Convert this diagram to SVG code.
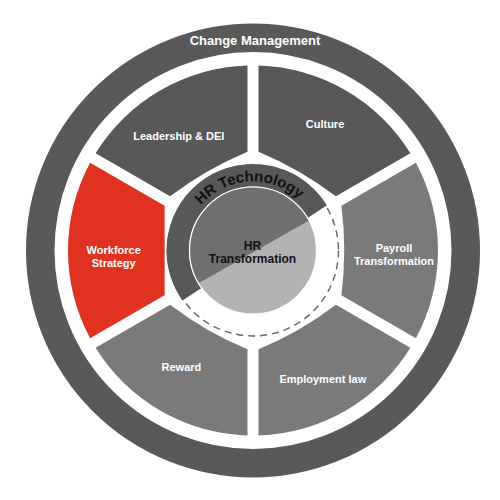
<svg xmlns="http://www.w3.org/2000/svg" width="500" height="500" viewBox="0 0 500 500">
<style>
.lbl{font-family:"Liberation Sans",Arial,sans-serif;font-size:11px;font-weight:bold;fill:#ffffff;text-anchor:middle}
.dark{fill:#585858}
.mid{fill:#7a7a7a}
.red{fill:#e03220}
.blk{font-family:"Liberation Sans",Arial,sans-serif;font-weight:bold;fill:#111111;text-anchor:middle}
</style>
<defs>
<clipPath id="ringClip"><polygon points="0,420.8 500,91.2 500,0 0,0"/></clipPath>
<clipPath id="coreClip"><polygon points="0,395.9 500,111.9 500,0 0,0"/></clipPath>
<path id="techArc" d="M 184 250.5 A 69 69 0 0 1 322 250.5"/>
</defs>
<rect width="500" height="500" fill="#ffffff"/>

<g id="change-management">
<circle cx="253" cy="250.5" r="212.75" fill="none" stroke="#595959" stroke-width="28.5"/>
<text x="255" y="44.5" class="lbl" style="font-size:13px">Change Management</text>
</g>

<g id="culture">
<path class="dark" d="M 258.5 65.6 A 185 185 0 0 1 410.4 153.3 L 335.9 196.3 A 350 350 0 0 0 258.5 151.65 Z"/>
<text x="325" y="128" class="lbl">Culture</text>
</g>
<g id="leadership-dei">
<path class="dark" d="M 95.6 153.3 A 185 185 0 0 1 247.5 65.6 L 247.5 151.65 A 350 350 0 0 0 170.1 196.3 Z"/>
<text x="178.8" y="140" class="lbl">Leadership &amp; DEI</text>
</g>
<g id="workforce-strategy">
<path class="red" d="M 90.1 338.2 A 185 185 0 0 1 90.1 162.8 L 164.6 205.8 L 164.6 295.2 Z"/>
<text x="113.7" y="254" class="lbl">Workforce</text>
<text x="113.7" y="267" class="lbl">Strategy</text>
</g>
<g id="reward">
<path class="mid" d="M 247.5 435.4 A 185 185 0 0 1 95.6 347.7 L 170.1 304.7 A 350 350 0 0 0 247.5 349.35 Z"/>
<text x="181.4" y="371" class="lbl">Reward</text>
</g>
<g id="employment-law">
<path class="mid" d="M 410.4 347.7 A 185 185 0 0 1 258.5 435.4 L 258.5 349.35 A 350 350 0 0 0 335.9 304.7 Z"/>
<text x="322.8" y="382.5" class="lbl">Employment law</text>
</g>
<g id="payroll-transformation">
<path class="mid" d="M 415.9 162.8 A 185 185 0 0 1 415.9 338.2 L 341.4 295.2 A 350 350 0 0 0 341.4 205.8 Z"/>
<text x="394" y="252" class="lbl">Payroll</text>
<text x="394" y="265" class="lbl">Transformation</text>
</g>

<g id="hr-technology">
<circle cx="253" cy="250.5" r="85.5" fill="none" stroke="#6a6a6a" stroke-width="1.5" stroke-dasharray="7 5"/>
<circle cx="253" cy="250.5" r="75.25" fill="none" stroke="#585858" stroke-width="22.5" clip-path="url(#ringClip)"/>
<text class="blk" style="font-size:15px"><textPath href="#techArc" startOffset="48%">HR Technology</textPath></text>
</g>

<g id="hr-transformation">
<circle cx="253" cy="250.5" r="63.5" fill="#b3b3b3"/>
<circle cx="253" cy="250.5" r="63.5" fill="#6f6f6f" clip-path="url(#coreClip)"/>
<circle cx="253" cy="250.5" r="63.5" fill="none" stroke="#ffffff" stroke-width="1.2"/>
<text x="252.5" y="249.5" class="blk" style="font-size:12px">HR</text>
<text x="252.5" y="262.5" class="blk" style="font-size:12px">Transformation</text>
</g>
</svg>
